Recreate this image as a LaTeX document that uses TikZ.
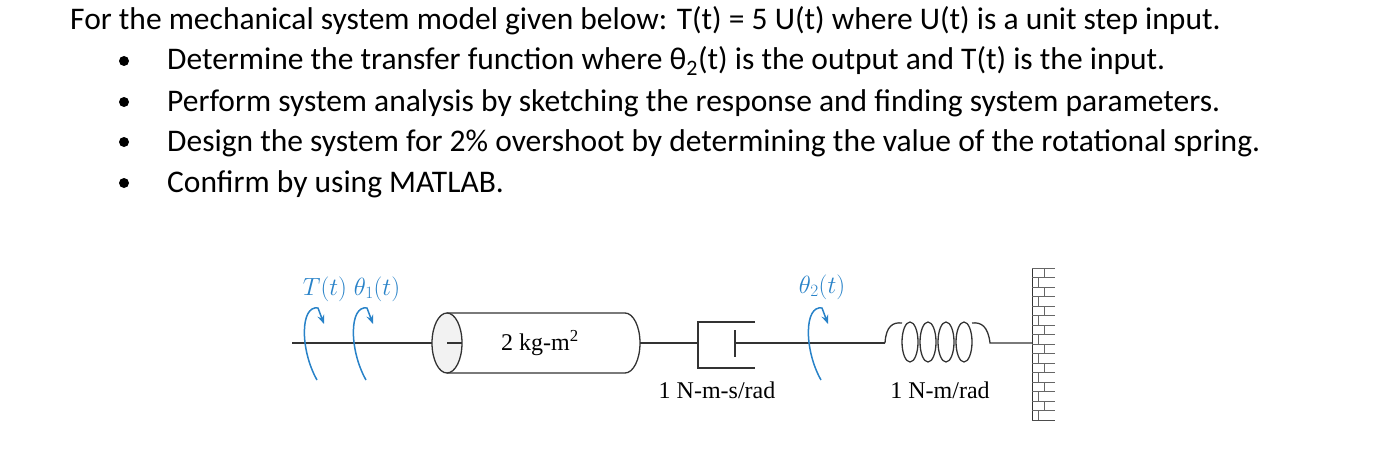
\documentclass[tikz,border=0pt]{standalone}
\usepackage{fontspec}
\setmainfont{Carlito}
\newfontfamily\seriffont{Liberation Serif}
\usetikzlibrary{arrows.meta}
\definecolor{blu}{RGB}{40,130,200}
\tikzset{
  txt/.style={anchor=base west,inner sep=0pt,font=\fontsize{31.5}{36}\selectfont},
  dlab/.style={inner sep=0pt,font=\seriffont\fontsize{24}{28}\selectfont},
  blab/.style={dlab,text=blu},
  mech/.style={line width=1.3pt,black!80},
  rot/.style={blu,line width=1.5pt,-{Stealth[length=9pt,width=7pt]}}
}
\begin{document}
\begin{tikzpicture}[x=1pt,y=-1pt]
\useasboundingbox (0,0) rectangle (1394,452);
\node[txt] (l1) at (70,30) {For the mechanical system model given below: T(t) = 5 U(t) where U(t) is a unit step input.};
\foreach \yy/\t [count=\i] in {70/{Determine the transfer function where θ\textsubscript{2}(t) is the output and T(t) is the input.},
  111/{Perform system analysis by sketching the response and finding system parameters.},
  151/{Design the system for 2\% overshoot by determining the value of the rotational spring.},
  192/{Confirm by using MATLAB.}}{
  \fill (124,\yy-9) circle (5);
  \node[txt] (b\i) at (167,\yy) {\t};
}
% shaft left
\draw[mech] (292,343) -- (447,343);
\node[blab] (tl) at (325,289) {$T(t)$};
\node[blab] (th1) at (377,289) {$\theta_1(t)$};
\draw[rot] (317,380) .. controls (300,350) and (300,305) .. (318,308) -- (324,324);
\draw[rot] (366,380) .. controls (349,350) and (349,305) .. (367,308) -- (373,324);
% cylinder
\draw[mech] (447,313) -- (625,313) arc (-90:90:15 and 30) -- (447,373);
\draw[mech,fill=gray!10] (447,343) ellipse (15 and 30);
\draw[mech] (447,343) -- (462,343);
\node[dlab] (J) at (540,343) {2 kg-m\textsuperscript{2}};
\draw[mech] (640,343) -- (698,343);
% damper
\draw[mech] (755,322) -- (698,322) -- (698,368) -- (755,368);
\draw[mech] (735,330) -- (735,357);
\draw[mech] (735,343) -- (885,343);
\node[dlab] (D) at (717,390) {1 N-m-s/rad};
\node[blab] (th2) at (822,287) {$\theta_2(t)$};
\draw[rot] (821,380) .. controls (804,350) and (804,305) .. (822,308) -- (828,324);
% spring
\draw[mech] (885,343) .. controls (886,326) and (893,322) .. (902,323);
\foreach \cx in {910,928,946,964}{
  \draw[mech] (\cx,342) ellipse (8 and 20);
}
\draw[mech] (972,323) .. controls (981,322) and (988,326) .. (990,343) -- (1032,343);
\node[dlab] (K) at (940,390) {1 N-m/rad};
% wall
\draw[mech,line width=1pt] (1032,268) -- (1032,420);
\foreach \k in {0,...,15}{
  \draw[black!60,line width=0.6pt] (1032,268+\k*9.5) -- (1055,268+\k*9.5);
  \pgfmathsetmacro\xx{mod(\k,2)==0 ? 1044 : 1038}
  \draw[black!60,line width=0.6pt] (\xx,268+\k*9.5) -- (\xx,277.5+\k*9.5);
}
\draw[black!70,line width=1pt] (1032,420) -- (1055,420);
\end{tikzpicture}
\end{document}
